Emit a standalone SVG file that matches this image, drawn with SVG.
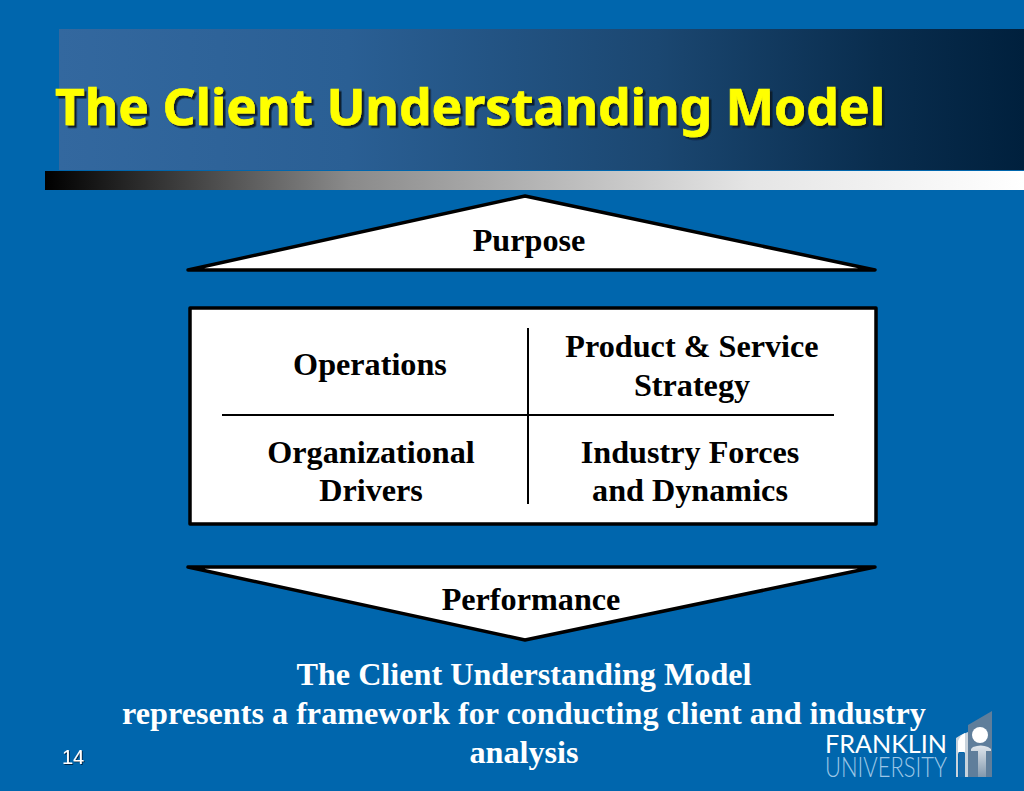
<svg xmlns="http://www.w3.org/2000/svg" width="1024" height="791" viewBox="0 0 1024 791">
<style>
.s{font-family:"Liberation Serif","Times New Roman",serif;font-weight:bold;font-size:32.2px;text-anchor:middle;fill:#000}
.w{fill:#fff}
.box{fill:#fff;stroke:#000;stroke-width:3.5;stroke-linejoin:round}
.ln{stroke:#000;stroke-width:2;fill:none}
.t{font-family:"Noto Sans",sans-serif;font-weight:700;font-size:50px;fill:#ffff00;stroke:#ffff00;stroke-width:.6;filter:url(#sh)}
.pg{font-family:"Liberation Sans",Arial,sans-serif;font-size:20px;fill:#fff;text-anchor:middle;filter:url(#sh2)}
</style>
<defs>
<linearGradient id="hdr"><stop offset="0" stop-color="#33689f"/><stop offset=".3" stop-color="#2a5f94"/><stop offset=".62" stop-color="#1b4771"/><stop offset=".85" stop-color="#092d4e"/><stop offset="1" stop-color="#00203d"/></linearGradient>
<linearGradient id="bar"><stop offset="0" stop-color="#000"/><stop offset=".31" stop-color="#8a8a8a"/><stop offset=".72" stop-color="#e5e5e5"/><stop offset="1" stop-color="#fff"/></linearGradient>
<linearGradient id="pill" x1="0" x2="0" y1="0" y2="1"><stop offset="0" stop-color="#e0e6ec"/><stop offset="1" stop-color="#8298ad"/></linearGradient>
<filter id="sh" x="-5%" y="-20%" width="110%" height="140%"><feDropShadow dx="2.5" dy="2.5" stdDeviation=".5" flood-color="#0b1c2c"/></filter>
<filter id="sh2" x="-20%" y="-20%" width="140%" height="140%"><feDropShadow dx="1" dy="1" stdDeviation=".3" flood-color="#00264a"/></filter>
</defs>
<rect width="1024" height="791" fill="#0066ad"/>
<g id="header">
<rect x="59" y="29" width="965" height="141" fill="url(#hdr)"/>
<rect x="45" y="171" width="979" height="19" fill="url(#bar)"/>
<text class="t" x="55" y="125" textLength="830" lengthAdjust="spacingAndGlyphs">The Client Understanding Model</text>
</g>
<g id="purpose">
<polygon class="box" points="188,270 525,196 875,270"/>
<text class="s" x="529" y="251">Purpose</text>
</g>
<g id="matrix">
<rect class="box" x="190" y="308" width="686" height="216"/>
<text class="s" x="370" y="375">Operations</text>
<text class="s" x="692" y="357">Product &amp; Service</text>
<text class="s" x="692" y="396">Strategy</text>
<text class="s" x="371" y="463">Organizational</text>
<text class="s" x="371" y="501">Drivers</text>
<text class="s" x="690" y="463">Industry Forces</text>
<text class="s" x="690" y="501">and Dynamics</text>
</g>
<g id="connectors">
<line class="ln" x1="528" y1="328" x2="528" y2="504"/>
<line class="ln" x1="222" y1="415" x2="834" y2="415"/>
</g>
<g id="performance">
<polygon class="box" points="188,567 875,567 525,640"/>
<text class="s" x="531" y="610">Performance</text>
</g>
<g id="caption">
<text class="s w" x="524" y="685">The Client Understanding Model</text>
<text class="s w" x="524" y="724">represents a framework for conducting client and industry</text>
<text class="s w" x="524" y="763">analysis</text>
</g>
<g id="page">
<text class="pg" x="73" y="764">14</text>
</g>
<g id="logo">
<text x="825" y="753" font-family="Lato,Liberation Sans,sans-serif" font-size="25" fill="#fff" textLength="122" lengthAdjust="spacingAndGlyphs">FRANKLIN</text>
<text x="825" y="777" font-family="Lato,Liberation Sans,sans-serif" font-weight="300" font-size="27" fill="#9cc6e6" textLength="122" lengthAdjust="spacingAndGlyphs">UNIVERSITY</text>
<polygon points="968,725 992,711 992,777 968,777" fill="#5f7e9b"/>
<path d="M956,777V738q6,-4 12,-6V777h-3V754q-3,-9 -7,0V777z" fill="#c9d3dc"/>
<path d="M958,752V741q3,-7 7,-8V752z" fill="#fff"/>
<rect x="959" y="753" width="6" height="24" fill="#1a6aa8"/>
<circle cx="980" cy="735" r="8" fill="#fff"/>
<path d="M973,747q8,-3 15,0l3,2v2h-5v26h-8V751h-7v-2z" fill="url(#pill)"/>
</g>
</svg>
